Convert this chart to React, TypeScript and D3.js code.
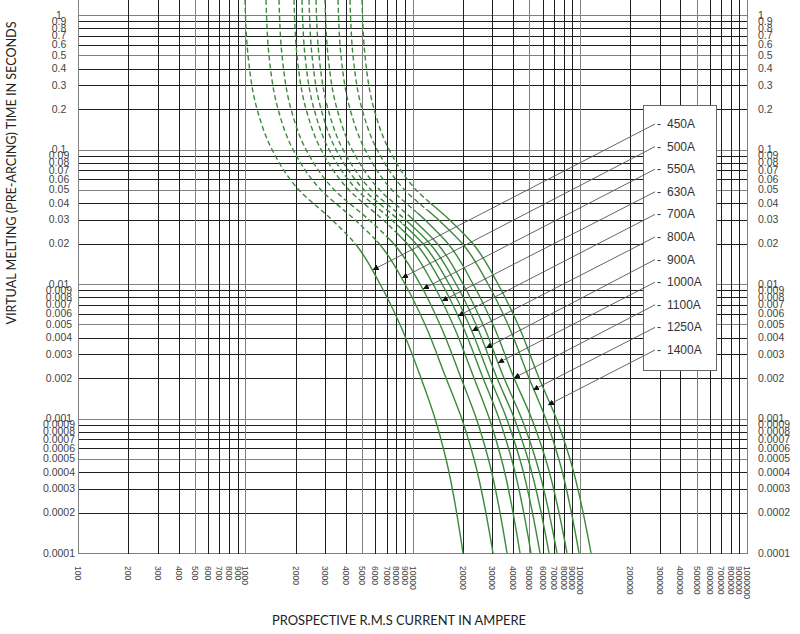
import React from 'react';
import * as d3 from 'd3';

// ---- data ----
const TIMES = [1.3, 1, 0.5, 0.2, 0.1, 0.05, 0.03, 0.02, 0.01, 0.005, 0.002, 0.001, 0.0005, 0.0001];
const RATINGS = ['450A', '500A', '550A', '630A', '700A', '800A', '900A', '1000A', '1100A', '1250A', '1400A'];

const I_450 = [997, 1003, 1039, 1176, 1445, 2096, 3302, 4532, 6393, 8419, 11240, 13630, 15860, 20040];
const I_500 = [1331, 1340, 1387, 1570, 1930, 2838, 4532, 6305, 9018, 11880, 15860, 19690, 23320, 30290];
const I_550 = [1592, 1602, 1659, 1877, 2308, 3417, 5494, 7698, 11090, 14600, 19500, 24070, 28430, 36730];
const I_630 = [1957, 1970, 2039, 2308, 2838, 4172, 6662, 9271, 13260, 17460, 23320, 28790, 34000, 43930];
const I_700 = [2184, 2199, 2276, 2577, 3168, 4674, 7489, 10460, 15010, 19770, 26400, 32900, 39130, 51110];
const I_800 = [2405, 2422, 2507, 2838, 3488, 5147, 8247, 11520, 16530, 21770, 29070, 36530, 43810, 57850];
const I_900 = [2649, 2667, 2760, 3124, 3841, 5667, 9081, 12680, 18200, 23970, 32010, 40610, 49040, 65490];
const I_1000 = [2998, 3019, 3124, 3537, 4348, 6371, 10140, 14060, 20040, 26400, 35240, 44910, 54450, 73110];
const I_1100 = [3586, 3610, 3737, 4230, 5200, 7541, 11880, 16300, 23000, 30290, 40450, 51540, 62490, 83900];
const I_1250 = [4230, 4259, 4408, 4990, 6134, 8988, 14300, 19840, 28280, 37240, 49720, 62490, 74940, 98970];
const I_1400 = [4990, 5024, 5200, 5886, 7236, 10530, 16640, 22920, 32450, 42740, 57060, 72410, 87440, 116750];
const CURVES = [I_450, I_500, I_550, I_630, I_700, I_800, I_900, I_1000, I_1100, I_1250, I_1400];

// time below which each curve is drawn solid (dashed above)
const DASH_END = [0.02, 0.021, 0.022, 0.024, 0.026, 0.028, 0.03, 0.032, 0.034, 0.036, 0.04];

// arrow tips (current, time) pointing at each curve
const ARROW_I = [5773, 8654, 11555, 15010, 18710, 22690, 27510, 32450, 40450, 52540, 64590];
const ARROW_T = [0.0127, 0.01108, 0.00918, 0.00747, 0.00578, 0.00447, 0.00334, 0.00259, 0.002, 0.00163, 0.00126];

const X_TICKS = [100, 200, 300, 400, 500, 600, 700, 800, 900, 1000,
  2000, 3000, 4000, 5000, 6000, 7000, 8000, 9000, 10000,
  20000, 30000, 40000, 50000, 60000, 70000, 80000, 90000, 100000,
  200000, 300000, 400000, 500000, 600000, 700000, 800000, 900000, 1000000];
const Y_TICKS = ['1', '0.9', '0.8', '0.7', '0.6', '0.5', '0.4', '0.3', '0.2',
  '0.1', '0.09', '0.08', '0.07', '0.06', '0.05', '0.04', '0.03', '0.02',
  '0.01', '0.009', '0.008', '0.007', '0.006', '0.005', '0.004', '0.003', '0.002',
  '0.001', '0.0009', '0.0008', '0.0007', '0.0006', '0.0005', '0.0004', '0.0003', '0.0002',
  '0.0001'];

const X_TITLE = 'PROSPECTIVE R.M.S CURRENT IN AMPERE';
const Y_TITLE = 'VIRTUAL MELTING (PRE-ARCING) TIME IN SECONDS';

// ---- layout ----
const W = 800, H = 634;
const LEFT = 78, RIGHT = 747, TOP = 15, BOTTOM = 553;
const GREEN = '#3a8a3a';
const TICK_FONT = '"Liberation Sans", Arial, sans-serif';
const TITLE_FONT = 'Lato, "Open Sans", sans-serif';

function mantissa(v: number) {
  const e = Math.floor(Math.log10(v) + 1e-9);
  return Math.round(v / Math.pow(10, e));
}

export default function App() {
  const x = d3.scaleLog().domain([100, 1000000]).range([LEFT, RIGHT]);
  const y = d3.scaleLog().domain([1, 0.0001]).range([TOP, BOTTOM]);
  const line = d3.line<[number, number]>()
    .x(d => x(d[0]))
    .y(d => y(d[1]))
    .curve(d3.curveMonotoneY);

  const px = (v: number) => Math.round(v) + 0.5;

  const legX = 643, legY = 105, legW = 73, legH = 265;
  const legRow0 = 124, legStep = 22.6;

  return (
    <svg width={W} height={H} style={{ position: 'absolute', left: 0, top: 0, background: '#fff' }}>
      <defs>
        {CURVES.map((_, i) => (
          <React.Fragment key={i}>
            <clipPath id={`dash-${i}`}>
              <rect x={0} y={0} width={W} height={y(DASH_END[i])} />
            </clipPath>
            <clipPath id={`solid-${i}`}>
              <rect x={0} y={y(DASH_END[i])} width={W} height={H} />
            </clipPath>
          </React.Fragment>
        ))}
        <clipPath id="plot">
          <rect x={LEFT} y={0} width={RIGHT - LEFT} height={BOTTOM} />
        </clipPath>
        <marker id="arrow" viewBox="0 0 10 10" refX={10} refY={5} markerWidth={6} markerHeight={6}
          markerUnits="userSpaceOnUse" orient="auto">
          <path d="M0,0 L10,5 L0,10 z" fill="#111" />
        </marker>
      </defs>

      {/* grid */}
      <g shapeRendering="crispEdges">
        {Y_TICKS.map((s, i) => {
          const v = parseFloat(s);
          const m = mantissa(v);
          return (
            <line key={'h' + i} x1={LEFT} x2={RIGHT} y1={px(y(v))} y2={px(y(v))}
              stroke={m === 1 || m === 5 ? '#808080' : '#1e1e1e'} strokeWidth={1} />
          );
        })}
        {X_TICKS.map((v, i) => {
          const m = mantissa(v);
          return (
            <line key={'v' + i} x1={px(x(v))} x2={px(x(v))} y1={0} y2={BOTTOM + 0.5}
              stroke={m === 1 || m === 5 ? '#808080' : '#1e1e1e'} strokeWidth={1} />
          );
        })}
      </g>

      {/* curves */}
      <g clipPath="url(#plot)">
        {CURVES.map((cur, i) => {
          const pts = cur.map((c, j) => [c, TIMES[j]] as [number, number]);
          const d = line(pts) || '';
          return (
            <g key={i}>
              <path d={d} fill="none" stroke={GREEN} strokeWidth={1.4} strokeDasharray="5,3"
                clipPath={`url(#dash-${i})`} />
              <path d={d} fill="none" stroke={GREEN} strokeWidth={1.4}
                clipPath={`url(#solid-${i})`} />
            </g>
          );
        })}
      </g>

      {/* legend box */}
      <rect x={legX} y={legY} width={legW} height={legH} fill="#fff" stroke="#666" strokeWidth={1}
        shapeRendering="crispEdges" />
      {RATINGS.map((r, i) => {
        const ly = legRow0 + i * legStep;
        return (
          <g key={r}>
            <line x1={655} y1={ly} x2={x(ARROW_I[i])} y2={y(ARROW_T[i])} stroke="#555" strokeWidth={0.9}
              markerEnd="url(#arrow)" />
            <text x={657} y={ly + 4} fontFamily={TICK_FONT} fontSize={12} fill="#333">-</text>
            <text x={667} y={ly + 4} fontFamily={TICK_FONT} fontSize={12} fill="#333">{r}</text>
          </g>
        );
      })}

      {/* y tick labels left & right */}
      {Y_TICKS.map((s, i) => {
        const v = parseFloat(s);
        const yy = y(v) + 3.5;
        return (
          <g key={'yl' + i} fontFamily={TICK_FONT} fontSize={10.5} fill="#444">
            <text x={59} y={yy} textAnchor="middle">{s}</text>
            <text x={758} y={yy} textAnchor="start">{s}</text>
          </g>
        );
      })}

      {/* x tick labels (rotated) */}
      {X_TICKS.map((v, i) => (
        <text key={'xl' + i} transform={`translate(${x(v)},${566}) rotate(90)`} dy="0.35em"
          fontFamily={TICK_FONT} fontSize={8.5} fill="#444">{String(v)}</text>
      ))}

      {/* titles */}
      <text x={399} y={625} textAnchor="middle" fontFamily={TITLE_FONT} fontSize={12.5} fill="#222"
        textLength={254} lengthAdjust="spacingAndGlyphs">{X_TITLE}</text>
      <text transform={`translate(16,173) rotate(-90)`} textAnchor="middle" fontFamily={TITLE_FONT}
        fontSize={12.5} fill="#222" textLength={303} lengthAdjust="spacingAndGlyphs">{Y_TITLE}</text>
    </svg>
  );
}
